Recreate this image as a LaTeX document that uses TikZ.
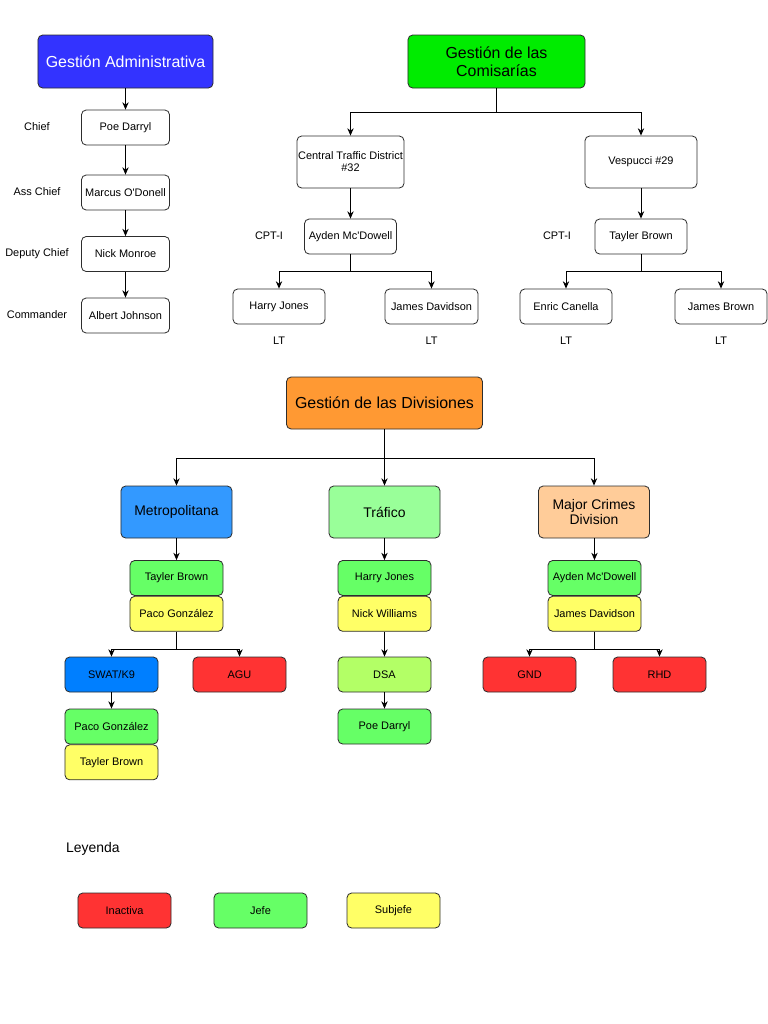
\documentclass[tikz,border=0pt]{standalone}
\usepackage{fontspec}
\setmainfont{Liberation Sans}
\usetikzlibrary{positioning}
\usetikzlibrary{arrows.meta}

\definecolor{boxline}{RGB}{45,45,45}
\definecolor{adminblue}{RGB}{51,51,255}
\definecolor{comisgreen}{RGB}{0,236,0}
\definecolor{divorange}{RGB}{255,153,51}
\definecolor{metroblue}{RGB}{51,153,255}
\definecolor{trafgreen}{RGB}{153,255,153}
\definecolor{mcdpeach}{RGB}{255,204,153}
\definecolor{jefegreen}{RGB}{102,255,102}
\definecolor{subyellow}{RGB}{255,255,102}
\definecolor{swatblue}{RGB}{0,127,255}
\definecolor{inactred}{RGB}{255,51,51}
\definecolor{dsagreen}{RGB}{179,255,102}

\newcommand{\fsmall}{\fontsize{9.35}{10.2}\selectfont}
\newcommand{\fmid}{\fontsize{11.9}{13.6}\selectfont}
\newcommand{\fbig}{\fontsize{13.6}{15.3}\selectfont}
\newcommand{\apos}{\textquotesingle}

\begin{document}
\begin{tikzpicture}[x=0.03cm, y=-0.03cm,
  >={Stealth[length=2.2mm,width=1.9mm]},
  box/.style={draw=boxline, line width=0.7pt, rounded corners=4pt, align=center,
    inner sep=1pt, font=\fsmall, text=black},
  person/.style={box, minimum width=2.64cm, minimum height=1.05cm},
  member/.style={box, minimum width=2.79cm, minimum height=1.05cm},
  unit/.style={box, minimum width=3.33cm, minimum height=1.56cm, font=\fmid},
  head/.style={box, minimum height=1.59cm, font=\fbig},
  lbl/.style={font=\fsmall, inner sep=0pt},
  link/.style={->, draw=black, line width=0.7pt}]

\useasboundingbox (0,0) rectangle (768,1024);

%---------------------------------------
% Gestion administrativa
%---------------------------------------
\node[head, fill=adminblue, text=white, minimum width=5.25cm] (admin) at (125.5,61.5) {Gestión Administrativa};

\node[person] (chief)     at (125.5,127.5) {Poe Darryl};
\node[person] (asschief)  at (125.5,192.5) {Marcus O\apos Donell};
\node[person] (deputy)    at (125.5,254)   {Nick Monroe};
\node[person] (commander) at (125.5,315.5) {Albert Johnson};

\node[lbl] (lchief)     at (37,127) {Chief};
\node[lbl] (lasschief)  at (37,192) {Ass Chief};
\node[lbl] (ldeputy)    at (37,254) {Deputy Chief};
\node[lbl] (lcommander) at (37,315) {Commander};

\draw[link] (admin) -- (chief);
\draw[link] (chief) -- (asschief);
\draw[link] (asschief) -- (deputy);
\draw[link] (deputy) -- (commander);

%---------------------------------------
% Gestion de las comisarias
%---------------------------------------
\node[head, fill=comisgreen, minimum width=5.31cm] (comis) at (496.5,61.5) {Gestión de las\\Comisarías};

\node[box, minimum width=3.21cm, minimum height=1.56cm] (ctd)  at (350.5,162) {Central Traffic District\\\#32};
\node[box, minimum width=3.36cm, minimum height=1.56cm] (vesp) at (641,162)   {Vespucci \#29};

\node[box, minimum width=2.76cm, minimum height=1.05cm] (ayden)  at (350.5,236.5) {Ayden Mc\apos Dowell};
\node[box, minimum width=2.76cm, minimum height=1.05cm] (tayler) at (641,236.5)   {Tayler Brown};

\node[lbl] (lcpta) at (269,236) {CPT-I};
\node[lbl] (lcptb) at (557,236) {CPT-I};

\node[box, minimum width=2.76cm, minimum height=1.05cm] (harry)  at (279,306.5)   {Harry Jones};
\node[box, minimum width=2.79cm, minimum height=1.05cm] (jamesd) at (431.5,306.5) {James Davidson};
\node[box, minimum width=2.76cm, minimum height=1.05cm] (enric)  at (566,306.5)   {Enric Canella};
\node[box, minimum width=2.76cm, minimum height=1.05cm] (jamesb) at (721,306.5)   {James Brown};

\node[lbl] (lltharry)  at (279,341)   {LT};
\node[lbl] (lltjamesd) at (431.5,341) {LT};
\node[lbl] (lltenric)  at (566,341)   {LT};
\node[lbl] (lltjamesb) at (721,341)   {LT};

\draw[link] (comis.south) -- ++(0,24) -| (ctd.north);
\draw[link] (comis.south) -- ++(0,24) -| (vesp.north);
\draw[link] (ctd) -- (ayden);
\draw[link] (vesp) -- (tayler);
\draw[link] (ayden.south) -- ++(0,17) -| (harry.north);
\draw[link] (ayden.south) -- ++(0,17) -| (jamesd.north);
\draw[link] (tayler.south) -- ++(0,17) -| (enric.north);
\draw[link] (tayler.south) -- ++(0,17) -| (jamesb.north);

%---------------------------------------
% Gestion de las divisiones
%---------------------------------------
\node[head, fill=divorange, minimum width=5.88cm, minimum height=1.56cm] (div) at (384.5,403) {Gestión de las Divisiones};

\node[unit, fill=metroblue] (metro) at (176.5,512) {Metropolitana};
\node[unit, fill=trafgreen] (traf)  at (384.5,512) {Tráfico};
\node[unit, fill=mcdpeach]  (mcd)   at (594,512)   {Major Crimes\\Division};

\draw[link] (div) -- (traf);
\draw[link] (div.south) -- ++(0,29) -| (metro.north);
\draw[link] (div.south) -- ++(0,29) -| (mcd.north);

% Metropolitana
\node[member, fill=jefegreen] (metjefe) at (176.5,578) {Tayler Brown};
\node[member, fill=subyellow, below=0pt of metjefe] (metsub) {Paco González};
\node[member, fill=swatblue]  (swat) at (111.5,674.5) {SWAT/K9};
\node[member, fill=inactred]  (agu)  at (239.5,674.5) {AGU};
\node[member, fill=jefegreen] (swatjefe) at (111.5,726.5) {Paco González};
\node[member, fill=subyellow, below=0pt of swatjefe] (swatsub) {Tayler Brown};

\draw[link] (metro) -- (metjefe);
\draw[link] (metsub.south) -- ++(0,18) -| (swat.north);
\draw[link] (metsub.south) -- ++(0,18) -| (agu.north);
\draw[link] (swat) -- (swatjefe);

% Trafico
\node[member, fill=jefegreen] (trafjefe) at (384.5,578) {Harry Jones};
\node[member, fill=subyellow, below=0pt of trafjefe] (trafsub) {Nick Williams};
\node[member, fill=dsagreen]  (dsa) at (384.5,674.5) {DSA};
\node[member, fill=jefegreen] (dsajefe) at (384.5,726.5) {Poe Darryl};

\draw[link] (traf) -- (trafjefe);
\draw[link] (trafsub) -- (dsa);
\draw[link] (dsa) -- (dsajefe);

% Major crimes
\node[member, fill=jefegreen] (mcdjefe) at (594.5,578) {Ayden Mc\apos Dowell};
\node[member, fill=subyellow, below=0pt of mcdjefe] (mcdsub) {James Davidson};
\node[member, fill=inactred] (gnd) at (529.5,674.5) {GND};
\node[member, fill=inactred] (rhd) at (659.5,674.5) {RHD};

\draw[link] (mcd.south -| mcdjefe.north) -- (mcdjefe.north);
\draw[link] (mcdsub.south) -- ++(0,18) -| (gnd.north);
\draw[link] (mcdsub.south) -- ++(0,18) -| (rhd.north);

%---------------------------------------
% Leyenda
%---------------------------------------
\node[lbl, font=\fmid, anchor=west] (leyenda) at (66,849) {Leyenda};

\node[member, fill=inactred]  (linact) at (124.5,910.5) {Inactiva};
\node[member, fill=jefegreen] (ljefe)  at (260.5,910.5) {Jefe};
\node[member, fill=subyellow] (lsub)   at (393.5,910.5) {Subjefe};

\end{tikzpicture}
\end{document}
